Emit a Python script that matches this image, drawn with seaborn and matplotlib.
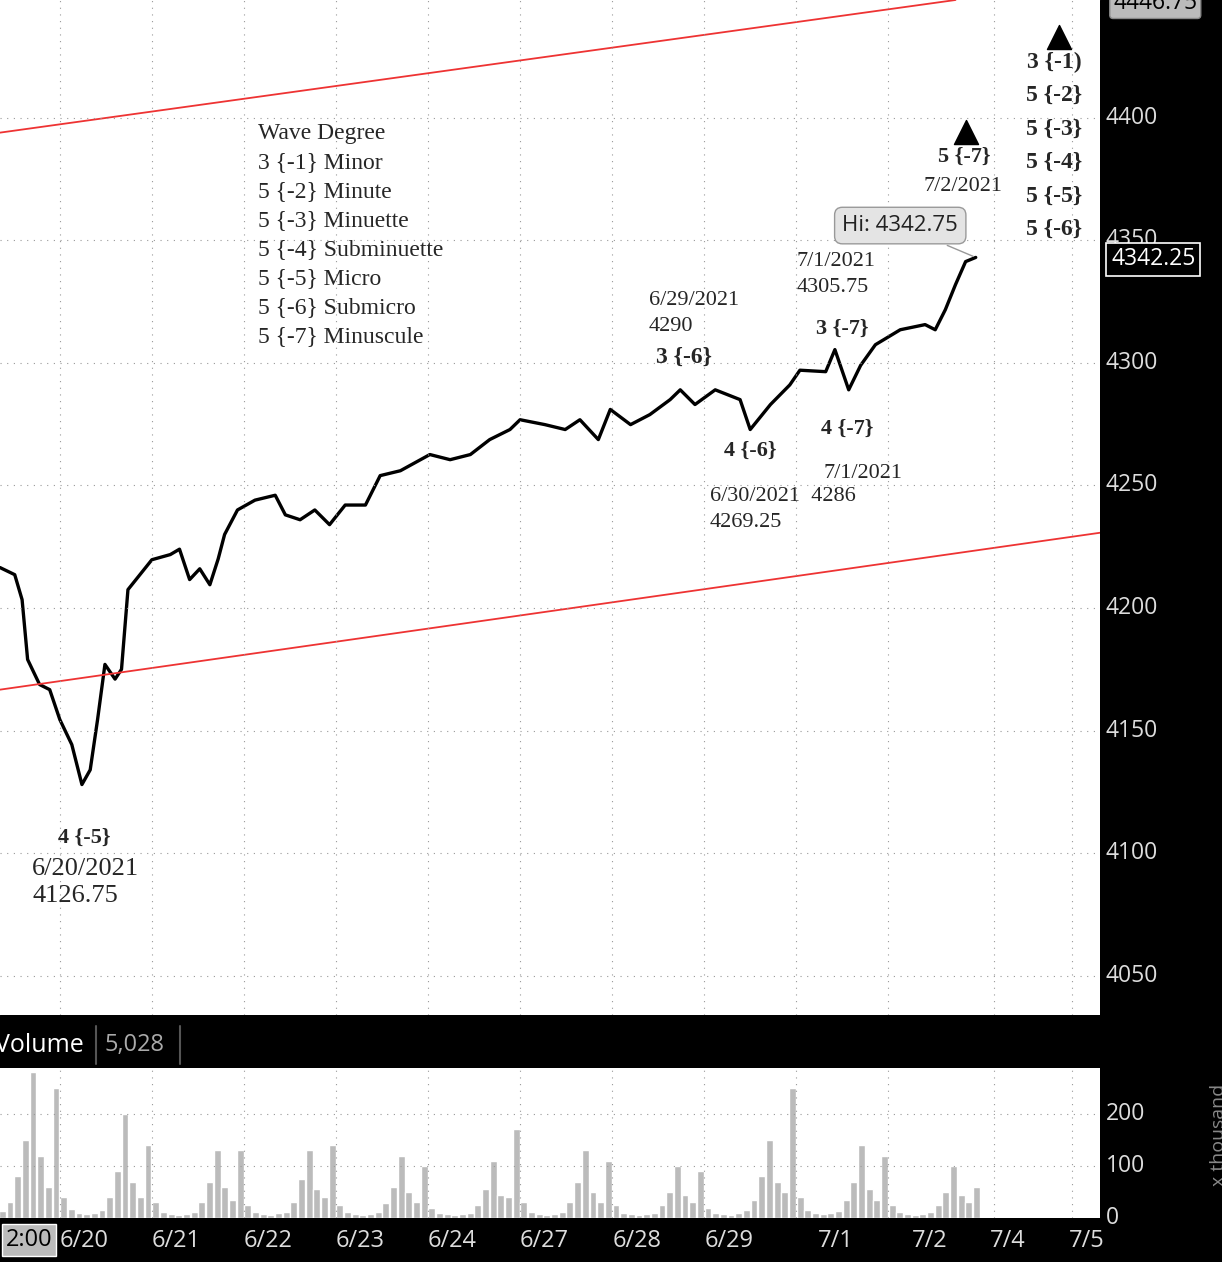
import matplotlib.pyplot as plt
import matplotlib.patches as mpatches
import seaborn as sns
import numpy as np
import pandas as pd

# price path, x in trading sessions (0 = 6/20 open line)
price_t = [-0.65, -0.49, -0.41, -0.35, -0.22, -0.11, 0.0, 0.13, 0.24, 0.33, 0.41, 0.49, 0.6, 0.67,
           0.74, 0.87, 1.0, 1.2, 1.3, 1.41, 1.52, 1.63, 1.72, 1.79, 1.93, 2.12, 2.34, 2.45, 2.61,
           2.77, 2.93, 3.1, 3.32, 3.48, 3.7, 4.02, 4.24, 4.46, 4.67, 4.89, 5.0, 5.27, 5.49, 5.65,
           5.85, 5.98, 6.2, 6.41, 6.63, 6.74, 6.9, 7.12, 7.39, 7.5, 7.72, 7.93, 8.04, 8.32, 8.42,
           8.57, 8.7, 8.86, 9.13, 9.4, 9.51, 9.62, 9.73, 9.84, 9.95]
price_v = [4216.5, 4213.6, 4203.4, 4179, 4168.8, 4166.7, 4154.5, 4144.3, 4128, 4134, 4154.5, 4177,
           4171, 4175, 4207.5, 4213.6, 4219.7, 4221.8, 4224, 4211.6, 4216, 4209.5, 4220, 4230, 4240,
           4244, 4246, 4238, 4236, 4240, 4234, 4242, 4242, 4254, 4256, 4262.6, 4260.5, 4262.6,
           4268.7, 4272.8, 4276.8, 4274.8, 4272.8, 4276.8, 4268.7, 4281, 4274.8, 4278.9, 4285, 4289,
           4283, 4289, 4285, 4272.8, 4283, 4291, 4297, 4296.4, 4305.4, 4289, 4299, 4307.4, 4313.5,
           4315.6, 4313.5, 4321.7, 4331.9, 4341.3, 4343]

# channel lines
upper_t = [-0.65, 9.73]
upper_v = [4393.9, 4448]
lower_t = [-0.65, 11.3]
lower_v = [4166.7, 4230.7]

# volume: 12 bars per session, session k covers [k-1, k)
vol_sessions = [
    [20, 10, 8, 10, 14, 30, 80, 150, 280, 120, 60, 250],
    [40, 18, 10, 8, 10, 15, 40, 90, 200, 70, 40, 140],
    [30, 12, 8, 6, 8, 12, 30, 70, 130, 60, 35, 130],
    [25, 12, 8, 6, 9, 12, 30, 75, 130, 55, 40, 140],
    [25, 12, 7, 6, 8, 12, 28, 60, 120, 50, 30, 100],
    [20, 10, 7, 6, 8, 10, 25, 55, 110, 45, 40, 170],
    [30, 12, 8, 6, 8, 12, 30, 70, 130, 50, 30, 110],
    [25, 10, 7, 6, 8, 10, 25, 50, 100, 45, 30, 90],
    [20, 10, 8, 6, 10, 15, 35, 80, 150, 70, 50, 250],
    [40, 15, 10, 8, 10, 14, 35, 70, 140, 55, 35, 120],
    [25, 12, 8, 6, 8, 12, 25, 50, 100, 45, 30, 60],
]
vol_t, vol_v = [], []
for k, sess in enumerate(vol_sessions):
    for i, v in enumerate(sess):
        t = k - 1 + (i + 0.5) / 12
        if -0.65 < t < 9.97:
            vol_t.append(t)
            vol_v.append(v)

grid_x = [0, 1, 2, 3, 4, 5, 6, 7, 8, 9, 10.15, 11.0]
date_labels = ["6/20", "6/21", "6/22", "6/23", "6/24", "6/27", "6/28", "6/29", "7/1", "7/2", "7/4", "7/5"]
date_label_x = [0.0, 1.0, 2.0, 3.0, 4.0, 5.0, 6.0, 7.0, 8.24, 9.26, 10.1, 10.96]
price_ticks = [4050, 4100, 4150, 4200, 4250, 4300, 4350, 4400]
vol_ticks = [100, 200]

legend_lines = ["Wave Degree", "3 {-1} Minor", "5 {-2} Minute", "5 {-3} Minuette",
                "5 {-4} Subminuette", "5 {-5} Micro", "5 {-6} Submicro", "5 {-7} Minuscule"]
stack_lines = ["3 {-1)", "5 {-2}", "5 {-3}", "5 {-4}", "5 {-5}", "5 {-6}"]

sns.set_style("white")
serif = "Liberation Serif"
sans = "Open Sans"

fig = plt.figure(figsize=(12.22, 12.62), dpi=100, facecolor="white")
W, H = 1222, 1262
# black frame areas
for r in [(1100 / W, 0, 122 / W, 1), (0, 1 - 1068 / H, 1, 53 / H), (0, 0, 1, 44 / H)]:
    fig.patches.append(mpatches.Rectangle(r[:2], r[2], r[3], transform=fig.transFigure,
                                          color="black", zorder=-10))

ax = fig.add_axes([0, 1 - 1015 / H, 1100 / W, 1015 / H])
ax.set_xlim(-0.65, 11.3)
ax.set_ylim(4034, 4448)
sns.lineplot(x=price_t, y=price_v, ax=ax, color="black", lw=2.4)
sns.lineplot(x=upper_t, y=upper_v, ax=ax, color="#ee3333", lw=1.3)
sns.lineplot(x=lower_t, y=lower_v, ax=ax, color="#ee3333", lw=1.3)
for g in grid_x:
    ax.axvline(g, color="#999999", ls=(0, (1, 5)), lw=0.8)
for p in price_ticks:
    ax.axhline(p, color="#999999", ls=(0, (1, 5)), lw=0.8)
ax.set_xticks([])
ax.set_yticks([])
for s in ax.spines.values():
    s.set_visible(False)

# price axis labels
for p in price_ticks:
    ax.text(1.005, (p - 4034) / (4448 - 4034), str(p), transform=ax.transAxes,
            color="#dddddd", fontsize=16.5, family=sans, va="center")
ax.text(1.01, (4342.25 - 4034) / 414, "4342.25", transform=ax.transAxes, color="white",
        fontsize=16.5, family=sans, va="center",
        bbox=dict(boxstyle="square,pad=0.2", fc="black", ec="white", lw=1.2))
ax.text(1.012, (4446.75 - 4034) / 414, "4446.75", transform=ax.transAxes, color="black",
        fontsize=16.5, family=sans, va="center",
        bbox=dict(boxstyle="round,pad=0.15", fc="#bbbbbb", ec="#888888"))

# annotations
ax.text(2.15, 4398, "\n".join(legend_lines), fontsize=17, family=serif, va="top",
        linespacing=1.5)
ax.text(0.27, 4104, "4 {-5}", fontsize=16, family=serif, fontweight="bold", ha="center")
ax.text(-0.3, 4088, "6/20/2021\n4126.75", fontsize=19, family=serif, va="center",
        linespacing=1.25)
ax.text(6.78, 4300, "3 {-6}", fontsize=17, family=serif, fontweight="bold", ha="center")
ax.text(6.4, 4313, "6/29/2021\n4290", fontsize=16, family=serif, linespacing=1.5)
ax.text(7.5, 4262, "4 {-6}", fontsize=16, family=serif, fontweight="bold", ha="center")
ax.text(7.06, 4240, "6/30/2021  4286\n4269.25", fontsize=16, family=serif, va="center",
        linespacing=1.5)
ax.text(8.55, 4271, "4 {-7}", fontsize=16, family=serif, fontweight="bold", ha="center")
ax.text(8.3, 4255, "7/1/2021", fontsize=16, family=serif, va="center")
ax.text(8.5, 4312, "3 {-7}", fontsize=16, family=serif, fontweight="bold", ha="center")
ax.text(8.0, 4336, "7/1/2021\n4305.75", fontsize=16, family=serif, va="center",
        linespacing=1.5)
ax.text(9.82, 4382, "5 {-7}", fontsize=16, family=serif, fontweight="bold", ha="center")
ax.text(9.81, 4370, "7/2/2021", fontsize=16, family=serif, ha="center")
ax.annotate("Hi: 4342.75", xy=(9.95, 4343), xytext=(9.13, 4356), fontsize=16, family=sans,
            color="#222222", ha="center", va="center",
            bbox=dict(boxstyle="round,pad=0.35", fc="#e4e4e4", ec="#999999"),
            arrowprops=dict(arrowstyle="-", color="#999999"))
ax.scatter([9.84, 10.86], [4394, 4433], marker="^", s=300, color="black", zorder=5)
ax.text(10.8, 4427, "\n".join(stack_lines), fontsize=17, family=serif, fontweight="bold",
        ha="center", va="top", linespacing=1.78)

# volume header
fig.text(-0.004, 1 - 1045 / H, "Volume", color="white", fontsize=18, family=sans, va="center")
fig.text(104 / W, 1 - 1045 / H, "5,028", color="#aaaaaa", fontsize=17, family=sans, va="center")
for lx in [96, 180]:
    fig.lines.append(plt.Line2D([lx / W, lx / W], [1 - 1064 / H, 1 - 1026 / H], color="#555555",
                                transform=fig.transFigure))

vax = fig.add_axes([0, 44 / H, 1100 / W, (1218 - 1068) / H])
vax.set_xlim(-0.65, 11.3)
vax.set_ylim(0, 288)
vax.bar(vol_t, vol_v, width=1 / 12 * 0.9, color="#bbbbbb")
for g in grid_x:
    vax.axvline(g, color="#999999", ls=(0, (1, 5)), lw=0.8)
for v in vol_ticks:
    vax.axhline(v, color="#999999", ls=(0, (1, 5)), lw=0.8)
    vax.text(1.005, v / 288, str(v), transform=vax.transAxes, color="#dddddd", fontsize=16.5,
             family=sans, va="center")
vax.text(1.005, 0.0, "0", transform=vax.transAxes, color="#dddddd", fontsize=16.5,
         family=sans, va="center")
vax.set_xticks([])
vax.set_yticks([])
for s in vax.spines.values():
    s.set_visible(False)
fig.text(0.99, 0.06, "x thousand", rotation=90, color="#888888", fontsize=14, family=sans,
         va="bottom")

# date labels
for lx, lab in zip(date_label_x, date_labels):
    fx = (lx + 0.65) / 11.95 * (1100 / W)
    fig.text(fx, 21 / H, lab, color="#dddddd", fontsize=17, family=sans, va="center")
fig.text(6 / W, 22 / H, "2:00", color="black", fontsize=17, family=sans, va="center",
         bbox=dict(boxstyle="square,pad=0.15", fc="#bbbbbb", ec="white"))

fig.savefig("out.png", dpi=100, facecolor="white")
